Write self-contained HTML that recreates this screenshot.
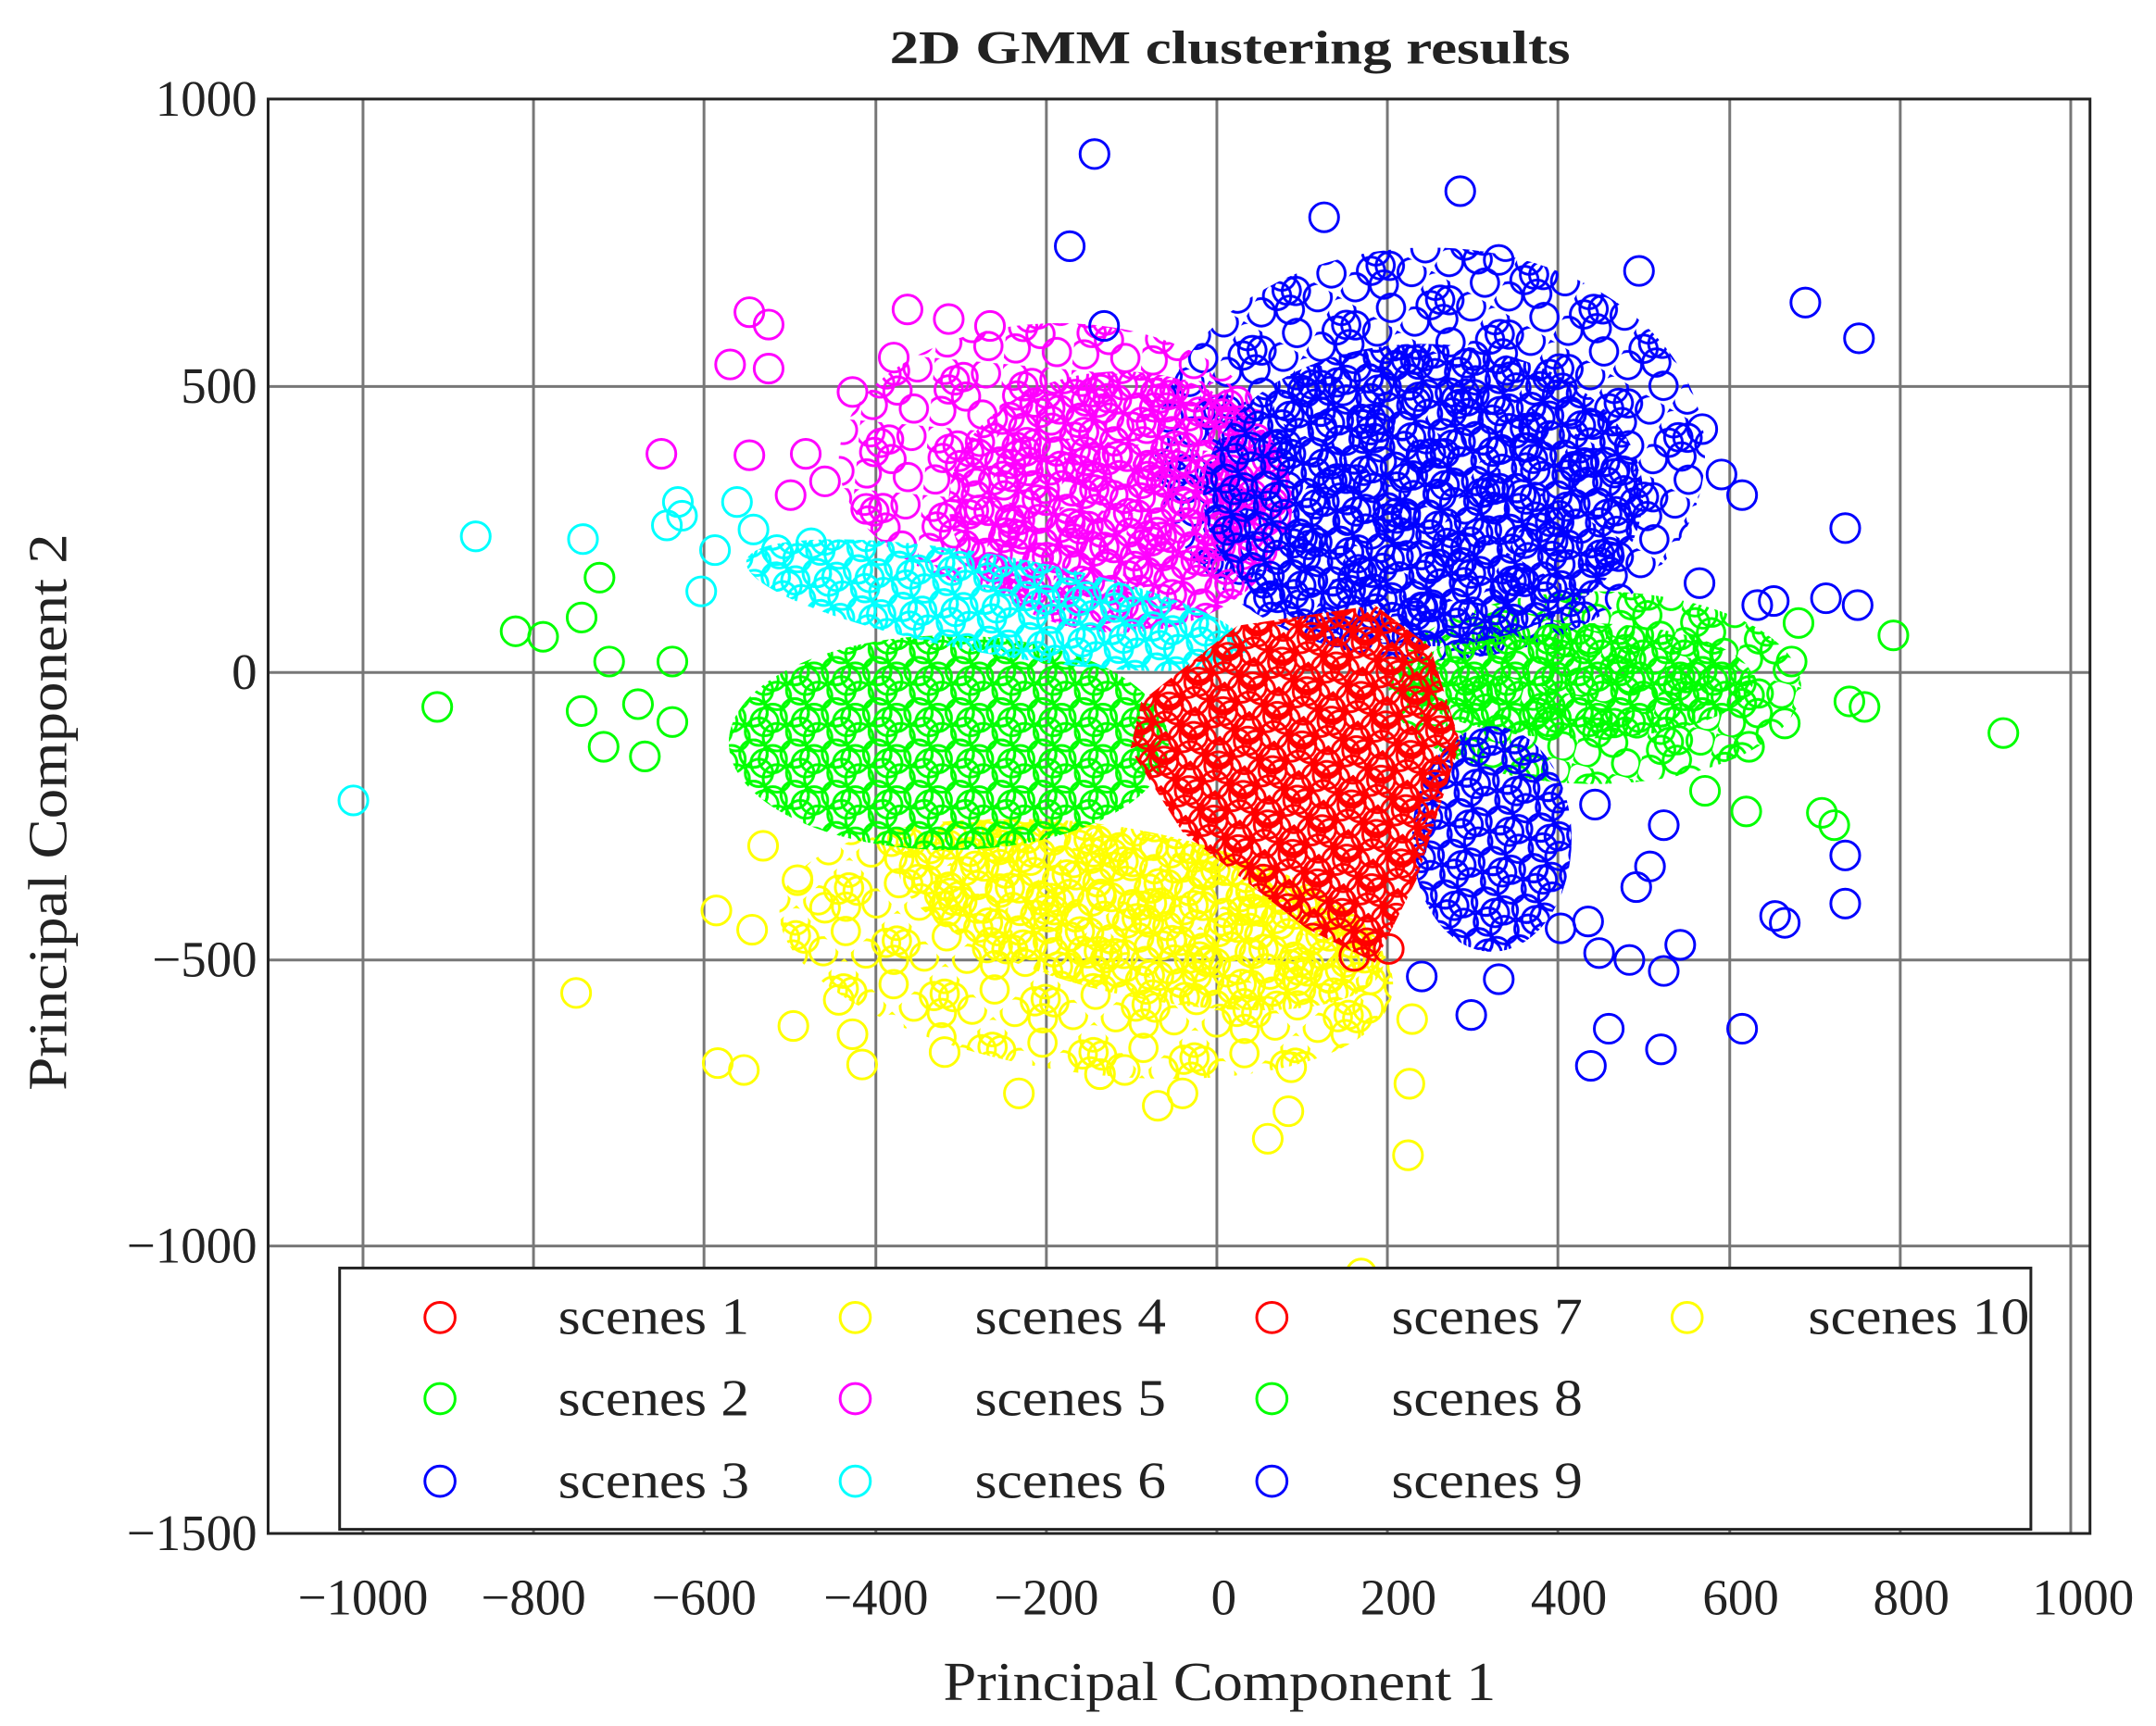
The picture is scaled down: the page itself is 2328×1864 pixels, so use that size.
<!DOCTYPE html>
<html><head><meta charset="utf-8"><style>
html,body{margin:0;padding:0;background:#fff;}
svg{display:block;}
text{font-family:"Liberation Serif",serif;fill:#222;}
</style></head><body>
<svg xmlns="http://www.w3.org/2000/svg" width="2328" height="1864" viewBox="0 0 1568 1255" preserveAspectRatio="none">
<defs>
<g id="tile" fill="none" stroke-width="2">
<circle cx="8" cy="8" r="10"/><circle cx="22" cy="12" r="10"/><circle cx="12" cy="22" r="10"/>
<circle cx="25" cy="26" r="10"/><circle cx="16" cy="15" r="10"/>
<circle cx="38" cy="8" r="10"/><circle cx="8" cy="38" r="10"/><circle cx="38" cy="38" r="10"/>
</g>
<pattern id="pG" width="30" height="30" patternUnits="userSpaceOnUse"><use href="#tile" stroke="#0f0"/><use href="#tile" stroke="#0f0" x="-30"/><use href="#tile" stroke="#0f0" y="-30"/><use href="#tile" stroke="#0f0" x="-30" y="-30"/></pattern>
<pattern id="pY" width="30" height="30" patternUnits="userSpaceOnUse" patternTransform="rotate(20)"><use href="#tile" stroke="#ff0"/><use href="#tile" stroke="#ff0" x="-30"/><use href="#tile" stroke="#ff0" y="-30"/><use href="#tile" stroke="#ff0" x="-30" y="-30"/></pattern>
<pattern id="pM" width="30" height="30" patternUnits="userSpaceOnUse" patternTransform="rotate(35)"><use href="#tile" stroke="#f0f"/><use href="#tile" stroke="#f0f" x="-30"/><use href="#tile" stroke="#f0f" y="-30"/><use href="#tile" stroke="#f0f" x="-30" y="-30"/></pattern>
<pattern id="pC" width="30" height="30" patternUnits="userSpaceOnUse" patternTransform="rotate(-15)"><use href="#tile" stroke="#0ff"/><use href="#tile" stroke="#0ff" x="-30"/><use href="#tile" stroke="#0ff" y="-30"/><use href="#tile" stroke="#0ff" x="-30" y="-30"/></pattern>
<pattern id="pB" width="30" height="30" patternUnits="userSpaceOnUse" patternTransform="rotate(10)"><use href="#tile" stroke="#00f"/><use href="#tile" stroke="#00f" x="-30"/><use href="#tile" stroke="#00f" y="-30"/><use href="#tile" stroke="#00f" x="-30" y="-30"/></pattern>
<pattern id="pB2" width="50" height="50" patternUnits="userSpaceOnUse" patternTransform="rotate(30)"><use href="#tile" stroke="#00f"/></pattern>
<pattern id="pR" width="28" height="28" patternUnits="userSpaceOnUse" patternTransform="rotate(50)"><use href="#tile" stroke="#f00"/><use href="#tile" stroke="#f00" x="-28"/><use href="#tile" stroke="#f00" y="-28"/><use href="#tile" stroke="#f00" x="-28" y="-28"/></pattern>
<pattern id="pGs" width="48" height="48" patternUnits="userSpaceOnUse" patternTransform="rotate(15)"><use href="#tile" stroke="#0f0"/></pattern>
<pattern id="pYs" width="52" height="52" patternUnits="userSpaceOnUse" patternTransform="rotate(40)"><use href="#tile" stroke="#ff0"/></pattern>
<pattern id="pMs" width="50" height="50" patternUnits="userSpaceOnUse" patternTransform="rotate(5)"><use href="#tile" stroke="#f0f"/></pattern>
</defs>
<rect x="0" y="0" width="1568" height="1255" fill="#fff"/>
<g stroke="#777" stroke-width="2">
<line x1="264" y1="72" x2="264" y2="1115"/><line x1="388" y1="72" x2="388" y2="1115"/>
<line x1="512" y1="72" x2="512" y2="1115"/><line x1="637" y1="72" x2="637" y2="1115"/>
<line x1="761" y1="72" x2="761" y2="1115"/><line x1="885" y1="72" x2="885" y2="1115"/>
<line x1="1009" y1="72" x2="1009" y2="1115"/><line x1="1133" y1="72" x2="1133" y2="1115"/>
<line x1="1258" y1="72" x2="1258" y2="1115"/><line x1="1382" y1="72" x2="1382" y2="1115"/>
<line x1="1506" y1="72" x2="1506" y2="1115"/>
<line x1="195" y1="281" x2="1520" y2="281"/><line x1="195" y1="489" x2="1520" y2="489"/>
<line x1="195" y1="698" x2="1520" y2="698"/><line x1="195" y1="906" x2="1520" y2="906"/>
</g>
<ellipse cx="790" cy="690" rx="225" ry="90" transform="rotate(8 790 690)" fill="url(#pYs)"/>
<ellipse cx="1160" cy="500" rx="150" ry="70" fill="url(#pGs)"/>
<ellipse cx="1040" cy="330" rx="200" ry="150" fill="url(#pB2)"/>
<ellipse cx="770" cy="335" rx="160" ry="100" fill="url(#pMs)"/>
<ellipse cx="830" cy="665" rx="180" ry="60" transform="rotate(12 830 665)" fill="url(#pY)"/>
<ellipse cx="690" cy="540" rx="160" ry="78" fill="url(#pG)"/>
<ellipse cx="1150" cy="495" rx="125" ry="42" fill="url(#pG)"/>
<ellipse cx="815" cy="365" rx="125" ry="95" fill="url(#pM)"/>
<ellipse cx="725" cy="440" rx="185" ry="36" transform="rotate(10 725 440)" fill="url(#pC)"/>
<ellipse cx="1035" cy="360" rx="160" ry="110" fill="url(#pB)"/>
<ellipse cx="1085" cy="610" rx="58" ry="82" fill="url(#pB)"/>
<polygon points="830,510 900,455 1000,440 1040,470 1062,540 1030,640 1000,700 950,675 860,605 822,545" fill="url(#pR)"/>
<g fill="none" stroke-width="2" stroke="#0f0">
<circle cx="318" cy="514" r="10.5"/><circle cx="375" cy="459" r="10.5"/><circle cx="395" cy="463" r="10.5"/>
<circle cx="423" cy="449" r="10.5"/><circle cx="436" cy="420" r="10.5"/><circle cx="443" cy="481" r="10.5"/>
<circle cx="423" cy="517" r="10.5"/><circle cx="439" cy="543" r="10.5"/><circle cx="464" cy="512" r="10.5"/>
<circle cx="469" cy="550" r="10.5"/><circle cx="489" cy="481" r="10.5"/><circle cx="489" cy="525" r="10.5"/>
<circle cx="1457" cy="533" r="10.5"/><circle cx="1377" cy="462" r="10.5"/><circle cx="1345" cy="510" r="10.5"/>
<circle cx="1356" cy="514" r="10.5"/><circle cx="1325" cy="591" r="10.5"/><circle cx="1334" cy="600" r="10.5"/>
<circle cx="1308" cy="453" r="10.5"/><circle cx="1303" cy="481" r="10.5"/><circle cx="1298" cy="526" r="10.5"/>
<circle cx="1272" cy="543" r="10.5"/><circle cx="1270" cy="590" r="10.5"/><circle cx="1240" cy="575" r="10.5"/>
</g>
<g fill="none" stroke-width="2" stroke="#0ff">
<circle cx="257" cy="582" r="10.5"/><circle cx="346" cy="390" r="10.5"/><circle cx="424" cy="392" r="10.5"/>
<circle cx="485" cy="382" r="10.5"/><circle cx="493" cy="365" r="10.5"/><circle cx="496" cy="375" r="10.5"/>
<circle cx="536" cy="365" r="10.5"/><circle cx="520" cy="400" r="10.5"/><circle cx="510" cy="430" r="10.5"/>
<circle cx="548" cy="385" r="10.5"/><circle cx="565" cy="400" r="10.5"/><circle cx="590" cy="395" r="10.5"/>
</g>
<g fill="none" stroke-width="2" stroke="#f0f">
<circle cx="481" cy="330" r="10.5"/><circle cx="531" cy="265" r="10.5"/><circle cx="545" cy="227" r="10.5"/>
<circle cx="559" cy="236" r="10.5"/><circle cx="559" cy="268" r="10.5"/><circle cx="545" cy="331" r="10.5"/>
<circle cx="586" cy="330" r="10.5"/><circle cx="600" cy="350" r="10.5"/><circle cx="620" cy="285" r="10.5"/>
<circle cx="660" cy="225" r="10.5"/><circle cx="690" cy="232" r="10.5"/><circle cx="720" cy="237" r="10.5"/>
<circle cx="630" cy="370" r="10.5"/><circle cx="575" cy="360" r="10.5"/><circle cx="650" cy="260" r="10.5"/>
</g>
<g fill="none" stroke-width="2" stroke="#00f">
<circle cx="796" cy="112" r="10.5"/><circle cx="778" cy="179" r="10.5"/><circle cx="803" cy="237" r="10.5"/>
<circle cx="963" cy="158" r="10.5"/><circle cx="1062" cy="139" r="10.5"/><circle cx="1090" cy="189" r="10.5"/>
<circle cx="1192" cy="197" r="10.5"/><circle cx="1313" cy="220" r="10.5"/><circle cx="1352" cy="246" r="10.5"/>
<circle cx="1267" cy="360" r="10.5"/><circle cx="1342" cy="384" r="10.5"/><circle cx="1328" cy="435" r="10.5"/>
<circle cx="1351" cy="440" r="10.5"/><circle cx="1278" cy="440" r="10.5"/><circle cx="1290" cy="437" r="10.5"/>
<circle cx="1238" cy="312" r="10.5"/><circle cx="1252" cy="345" r="10.5"/><circle cx="1236" cy="424" r="10.5"/>
<circle cx="1342" cy="622" r="10.5"/><circle cx="1342" cy="657" r="10.5"/><circle cx="1291" cy="666" r="10.5"/>
<circle cx="1298" cy="671" r="10.5"/><circle cx="1267" cy="748" r="10.5"/><circle cx="1208" cy="763" r="10.5"/>
<circle cx="1170" cy="748" r="10.5"/><circle cx="1157" cy="775" r="10.5"/><circle cx="1222" cy="687" r="10.5"/>
<circle cx="1210" cy="706" r="10.5"/><circle cx="1185" cy="698" r="10.5"/><circle cx="1163" cy="693" r="10.5"/>
<circle cx="1155" cy="670" r="10.5"/><circle cx="1135" cy="675" r="10.5"/><circle cx="1200" cy="630" r="10.5"/>
<circle cx="1210" cy="600" r="10.5"/><circle cx="1190" cy="645" r="10.5"/><circle cx="1160" cy="585" r="10.5"/>
<circle cx="1070" cy="738" r="10.5"/><circle cx="1090" cy="712" r="10.5"/><circle cx="1034" cy="710" r="10.5"/>
</g>
<g fill="none" stroke-width="2" stroke="#ff0">
<circle cx="419" cy="722" r="10.5"/><circle cx="521" cy="662" r="10.5"/><circle cx="522" cy="773" r="10.5"/>
<circle cx="541" cy="778" r="10.5"/><circle cx="547" cy="676" r="10.5"/><circle cx="577" cy="746" r="10.5"/>
<circle cx="610" cy="727" r="10.5"/><circle cx="620" cy="752" r="10.5"/><circle cx="627" cy="774" r="10.5"/>
<circle cx="687" cy="765" r="10.5"/><circle cx="741" cy="795" r="10.5"/><circle cx="555" cy="615" r="10.5"/>
<circle cx="800" cy="781" r="10.5"/><circle cx="818" cy="778" r="10.5"/><circle cx="842" cy="804" r="10.5"/>
<circle cx="860" cy="795" r="10.5"/><circle cx="922" cy="828" r="10.5"/><circle cx="939" cy="776" r="10.5"/>
<circle cx="937" cy="808" r="10.5"/><circle cx="1024" cy="840" r="10.5"/><circle cx="1025" cy="788" r="10.5"/>
<circle cx="1027" cy="741" r="10.5"/><circle cx="995" cy="733" r="10.5"/><circle cx="975" cy="705" r="10.5"/>
<circle cx="990" cy="926" r="10.5"/><circle cx="580" cy="640" r="10.5"/><circle cx="600" cy="660" r="10.5"/>
</g>
<g fill="none" stroke-width="2" stroke="#f00">
<circle cx="1010" cy="690" r="10.5"/><circle cx="985" cy="695" r="10.5"/>
</g>
<rect x="195" y="72" width="1325" height="1043" fill="none" stroke="#222" stroke-width="2"/>
<rect x="247" y="922" width="1230" height="190" fill="#fff" stroke="#222" stroke-width="2"/>
<g fill="none" stroke-width="2">
<circle cx="320" cy="958" r="11" stroke="#f00"/><circle cx="320" cy="1017" r="11" stroke="#0f0"/><circle cx="320" cy="1077" r="11" stroke="#00f"/>
<circle cx="622" cy="958" r="11" stroke="#ff0"/><circle cx="622" cy="1017" r="11" stroke="#f0f"/><circle cx="622" cy="1077" r="11" stroke="#0ff"/>
<circle cx="925" cy="958" r="11" stroke="#f00"/><circle cx="925" cy="1017" r="11" stroke="#0f0"/><circle cx="925" cy="1077" r="11" stroke="#00f"/>
<circle cx="1227" cy="958" r="11" stroke="#ff0"/>
</g>
<g font-size="38">
<text x="406" y="970" textLength="139" lengthAdjust="spacingAndGlyphs">scenes 1</text><text x="406" y="1029" textLength="139" lengthAdjust="spacingAndGlyphs">scenes 2</text><text x="406" y="1089" textLength="139" lengthAdjust="spacingAndGlyphs">scenes 3</text>
<text x="709" y="970" textLength="139" lengthAdjust="spacingAndGlyphs">scenes 4</text><text x="709" y="1029" textLength="139" lengthAdjust="spacingAndGlyphs">scenes 5</text><text x="709" y="1089" textLength="139" lengthAdjust="spacingAndGlyphs">scenes 6</text>
<text x="1012" y="970" textLength="139" lengthAdjust="spacingAndGlyphs">scenes 7</text><text x="1012" y="1029" textLength="139" lengthAdjust="spacingAndGlyphs">scenes 8</text><text x="1012" y="1089" textLength="139" lengthAdjust="spacingAndGlyphs">scenes 9</text>
<text x="1315" y="970" textLength="161" lengthAdjust="spacingAndGlyphs">scenes 10</text>
</g>
<g font-size="37" text-anchor="end">
<text x="187" y="84">1000</text><text x="187" y="293">500</text><text x="187" y="501">0</text>
<text x="187" y="710">−500</text><text x="187" y="918">−1000</text><text x="187" y="1127">−1500</text>
</g>
<g font-size="37" text-anchor="middle">
<text x="264" y="1174">−1000</text><text x="388" y="1174">−800</text><text x="512" y="1174">−600</text>
<text x="637" y="1174">−400</text><text x="761" y="1174">−200</text><text x="890" y="1174">0</text>
<text x="1017" y="1174">200</text><text x="1141" y="1174">400</text><text x="1266" y="1174">600</text>
<text x="1390" y="1174">800</text><text x="1515" y="1174">1000</text>
</g>
<text x="686" y="1236" font-size="40" textLength="402" lengthAdjust="spacingAndGlyphs">Principal Component 1</text>
<text transform="translate(48,793) rotate(-90)" font-size="40" textLength="405" lengthAdjust="spacingAndGlyphs">Principal Component 2</text>
<text x="647" y="46" font-size="34" font-weight="bold" textLength="495" lengthAdjust="spacingAndGlyphs">2D GMM clustering results</text>
</svg>
</body></html>
